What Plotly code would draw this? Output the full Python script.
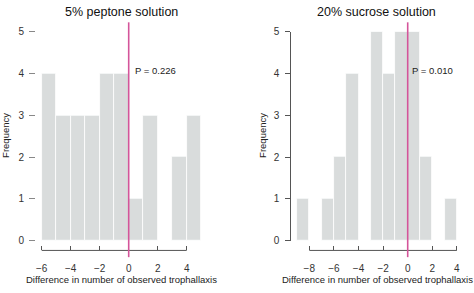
import plotly.graph_objects as go

# ---------------- data ----------------
# Left panel: 5% peptone solution (histogram, unit bins, left bin edges)
pep_bin_left = [-6, -5, -4, -3, -2, -1, 0, 1, 2, 3, 4]
pep_counts   = [4, 3, 3, 3, 4, 4, 1, 3, 0, 2, 3]
pep_ticks = [-6, -4, -2, 0, 2, 4]
pep_title = "5% peptone solution"
pep_p = "P = 0.226"

# Right panel: 20% sucrose solution
suc_bin_left = [-9, -8, -7, -6, -5, -4, -3, -2, -1, 0, 1, 2, 3]
suc_counts   = [1, 0, 1, 2, 4, 0, 5, 4, 5, 5, 2, 0, 1]
suc_ticks = [-8, -6, -4, -2, 0, 2, 4]
suc_title = "20% sucrose solution"
suc_p = "P = 0.010"

y_ticks = [0, 1, 2, 3, 4, 5]
x_label = "Difference in number of observed trophallaxis"
y_label = "Frequency"
observed = 0

# ---------------- layout helpers (pixels -> paper) ----------------
W, H = 474, 293
def px(x):
    return x / W
def py(y):
    return 1 - y / H

BAR = "#d9dcdc"
PINK = "#d4559a"
AX = "#555555"
FONT = "Liberation Sans, Arial, sans-serif"

fig = go.Figure()

fig.add_trace(go.Bar(
    x=[e + 0.5 for e in pep_bin_left], y=pep_counts, width=[1] * len(pep_counts),
    marker=dict(color=BAR, line=dict(color="white", width=0.8)),
    xaxis="x", yaxis="y", showlegend=False, hoverinfo="skip"))
fig.add_trace(go.Bar(
    x=[e + 0.5 for e in suc_bin_left], y=suc_counts, width=[1] * len(suc_counts),
    marker=dict(color=BAR, line=dict(color="white", width=0.8)),
    xaxis="x2", yaxis="y2", showlegend=False, hoverinfo="skip"))

ydom = [py(245), py(27.7)]
xpos = py(255)

# left x: -6 -> 41.7px, unit 14.5px ; domain 35..222
def lval(p):
    return -6 + (p - 41.7) / 14.5
# right x: 0 -> 407.7px, unit 12.3px ; domain 291..468
def rval(p):
    return (p - 407.7) / 12.3

tickfont = dict(family=FONT, size=10, color="#333333")

fig.update_layout(
    width=W, height=H, margin=dict(l=0, r=0, t=0, b=0),
    paper_bgcolor="white", plot_bgcolor="white",
    bargap=0, font=dict(family=FONT),
    xaxis=dict(domain=[px(35), px(222)], range=[lval(35), lval(222)],
               anchor="free", position=xpos, tickvals=pep_ticks,
               ticks="inside", ticklen=4, tickcolor=AX, showline=False,
               showgrid=False, zeroline=False, tickfont=tickfont,
               ticklabelstandoff=11),
    yaxis=dict(domain=ydom, range=[0, 5], anchor="free", position=px(35),
               tickvals=y_ticks, ticks="outside", ticklen=6, tickcolor="#888888",
               showline=False, showgrid=False, zeroline=False, tickfont=tickfont,
               ticklabelstandoff=3),
    xaxis2=dict(domain=[px(291), px(468)], range=[rval(291), rval(468)],
                anchor="free", position=xpos, tickvals=suc_ticks,
                ticks="inside", ticklen=4, tickcolor=AX, showline=False,
                showgrid=False, zeroline=False, tickfont=tickfont,
                ticklabelstandoff=11),
    yaxis2=dict(domain=ydom, range=[0, 5], anchor="free", position=px(290.3),
                tickvals=y_ticks, ticks="outside", ticklen=5, tickcolor=AX,
                showline=True, linecolor=AX, linewidth=1,
                showgrid=False, zeroline=False, tickfont=tickfont,
                ticklabelstandoff=4),
)

# x axis lines (R style, only spanning the tick range)
for xr, ticks in (("x", pep_ticks), ("x2", suc_ticks)):
    fig.add_shape(type="line", xref=xr, yref="paper", x0=ticks[0], x1=ticks[-1],
                  y0=xpos, y1=xpos, line=dict(color=AX, width=1))
    # observed value line
    fig.add_shape(type="line", xref=xr, yref="paper", x0=observed, x1=observed,
                  y0=py(262), y1=py(18), line=dict(color=PINK, width=1.6))

def note(text, x, y, size, color="#222222", xanchor="center", angle=0):
    return dict(text=text, x=px(x), y=py(y), xref="paper", yref="paper",
                xanchor=xanchor, yanchor="middle", textangle=angle,
                showarrow=False, font=dict(size=size, color=color))

ann = [
    note(pep_title, 121, 7, 12.5, "#111111"),
    note(suc_title, 376, 7, 12.5, "#111111"),
    note(pep_p, 133, 68, 9.5, xanchor="left"),
    note(suc_p, 410, 68, 9.5, xanchor="left"),
    note(x_label, 121.5, 285.5, 9.5),
    note(x_label, 377, 285.5, 9.5),
    note(y_label, 6, 136, 9.5, angle=-90),
    note(y_label, 263, 136, 9.5, angle=-90),
]
fig.update_layout(annotations=ann)

fig.write_html("out.html")
